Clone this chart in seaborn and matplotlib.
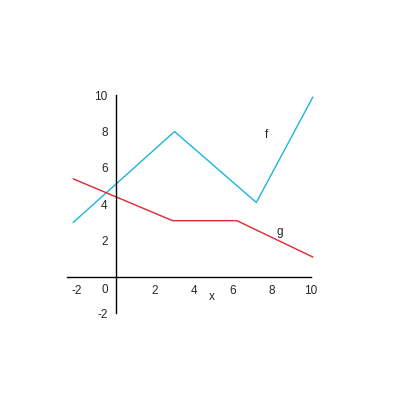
import matplotlib
matplotlib.use("Agg")
import matplotlib.pyplot as plt
import seaborn as sns
import pandas as pd

# Werte
f_x = [-2.2, 3.0, 7.2, 10.1]
f_y = [3.0, 8.0, 4.1, 9.9]
g_x = [-2.2, 2.9, 6.2, 10.1]
g_y = [5.4, 3.1, 3.1, 1.1]
x_ticks = [-2, 2, 4, 6, 8, 10]
y_ticks = [-2, 2, 4, 6, 8, 10]

sns.set_style("white")
plt.rcParams["font.family"] = ["Liberation Sans", "DejaVu Sans"]
plt.rcParams["axes.unicode_minus"] = False

df = pd.concat([
    pd.DataFrame({"x": f_x, "y": f_y, "name": "f"}),
    pd.DataFrame({"x": g_x, "y": g_y, "name": "g"}),
])

fig = plt.figure(figsize=(4, 4), dpi=100)
ax = fig.add_axes([0.144, 0.171, 0.682, 0.6365])
sns.lineplot(data=df, x="x", y="y", hue="name", sort=False, estimator=None,
             palette={"f": "#1cb6d9", "g": "#e3262b"}, linewidth=1,
             legend=False, ax=ax)

ax.set_xlim(-3, 11)
ax.set_ylim(-3, 11)
for s in ["top", "right"]:
    ax.spines[s].set_visible(False)
ax.spines["left"].set_position(("data", 0))
ax.spines["bottom"].set_position(("data", 0))
ax.spines["left"].set_bounds(-2, 10)
ax.spines["bottom"].set_bounds(-2.5, 10)
for s in ["left", "bottom"]:
    ax.spines[s].set_color("black")
    ax.spines[s].set_linewidth(1)
ax.set_xticks(x_ticks)
ax.set_yticks(y_ticks)
ax.set_xticklabels([str(v) for v in x_ticks])
ax.set_yticklabels([str(v) for v in y_ticks])
ax.tick_params(length=0, labelsize=8.5, pad=6)
ax.get_xticklabels()[0].set_x(-2.4)
ax.set_xlabel("")
ax.set_ylabel("")
ax.text(-0.4, -0.4, "0", ha="right", va="top", fontsize=8.5)
ax.text(4.9, -1.1, "x", ha="center", va="center", fontsize=8.5)
ax.text(7.7, 7.8, "f", ha="center", va="center", fontsize=8.5)
ax.text(8.4, 2.5, "g", ha="center", va="center", fontsize=8.5)

fig.savefig("out.png", dpi=100)
